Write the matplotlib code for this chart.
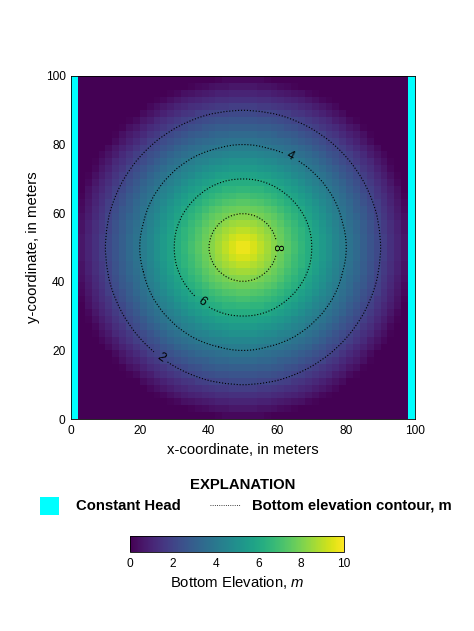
import numpy as np
import matplotlib
matplotlib.use("Agg")
import matplotlib.pyplot as plt
from matplotlib.colors import ListedColormap
from matplotlib.lines import Line2D
from matplotlib.patches import Rectangle

plt.rcParams["font.family"] = ["Liberation Sans", "DejaVu Sans"]
plt.rcParams["mathtext.fontset"] = "custom"
plt.rcParams["mathtext.it"] = "Liberation Sans:italic"
plt.rcParams["mathtext.rm"] = "Liberation Sans"

W, H = 474, 631

# bottom elevation, one quadrant of the grid,
# first row/column is next to the center of the model (cells are 2 m wide)
quadrant = [
    [9.7,9.4,9.0,8.6,8.2,7.8,7.4,7.0,6.6,6.2,5.8,5.4,5.0,4.6,4.2,3.8,3.4,3.0,2.6,2.2,1.8,1.4,1.0,0.6,0.2],
    [9.4,9.2,8.8,8.5,8.1,7.7,7.3,6.9,6.5,6.2,5.8,5.4,5.0,4.6,4.2,3.8,3.4,3.0,2.6,2.2,1.8,1.4,1.0,0.6,0.2],
    [9.0,8.8,8.6,8.3,7.9,7.6,7.2,6.8,6.5,6.1,5.7,5.3,4.9,4.5,4.1,3.7,3.3,2.9,2.5,2.1,1.7,1.3,0.9,0.5,0.2],
    [8.6,8.5,8.3,8.0,7.7,7.4,7.0,6.7,6.3,6.0,5.6,5.2,4.8,4.4,4.0,3.6,3.3,2.9,2.5,2.1,1.7,1.3,0.9,0.5,0.1],
    [8.2,8.1,7.9,7.7,7.5,7.2,6.8,6.5,6.2,5.8,5.4,5.1,4.7,4.3,3.9,3.5,3.2,2.8,2.4,2.0,1.6,1.2,0.8,0.4,0.0],
    [7.8,7.7,7.6,7.4,7.2,6.9,6.6,6.3,6.0,5.6,5.3,4.9,4.5,4.2,3.8,3.4,3.0,2.7,2.3,1.9,1.5,1.1,0.7,0.3,0.0],
    [7.4,7.3,7.2,7.0,6.8,6.6,6.3,6.0,5.7,5.4,5.1,4.7,4.4,4.0,3.6,3.3,2.9,2.5,2.2,1.8,1.4,1.0,0.6,0.2,0.0],
    [7.0,6.9,6.8,6.7,6.5,6.3,6.0,5.8,5.5,5.2,4.8,4.5,4.2,3.8,3.5,3.1,2.8,2.4,2.0,1.6,1.3,0.9,0.5,0.1,0.0],
    [6.6,6.5,6.5,6.3,6.2,6.0,5.7,5.5,5.2,4.9,4.6,4.3,4.0,3.6,3.3,2.9,2.6,2.2,1.9,1.5,1.1,0.8,0.4,0.0,0.0],
    [6.2,6.2,6.1,6.0,5.8,5.6,5.4,5.2,4.9,4.6,4.3,4.0,3.7,3.4,3.1,2.7,2.4,2.0,1.7,1.3,1.0,0.6,0.2,0.0,0.0],
    [5.8,5.8,5.7,5.6,5.4,5.3,5.1,4.8,4.6,4.3,4.1,3.8,3.5,3.2,2.8,2.5,2.2,1.8,1.5,1.1,0.8,0.4,0.1,0.0,0.0],
    [5.4,5.4,5.3,5.2,5.1,4.9,4.7,4.5,4.3,4.0,3.8,3.5,3.2,2.9,2.6,2.3,2.0,1.6,1.3,0.9,0.6,0.2,0.0,0.0,0.0],
    [5.0,5.0,4.9,4.8,4.7,4.5,4.4,4.2,4.0,3.7,3.5,3.2,2.9,2.6,2.3,2.0,1.7,1.4,1.1,0.7,0.4,0.1,0.0,0.0,0.0],
    [4.6,4.6,4.5,4.4,4.3,4.2,4.0,3.8,3.6,3.4,3.2,2.9,2.6,2.4,2.1,1.8,1.5,1.2,0.8,0.5,0.2,0.0,0.0,0.0,0.0],
    [4.2,4.2,4.1,4.0,3.9,3.8,3.6,3.5,3.3,3.1,2.8,2.6,2.3,2.1,1.8,1.5,1.2,0.9,0.6,0.3,0.0,0.0,0.0,0.0,0.0],
    [3.8,3.8,3.7,3.6,3.5,3.4,3.3,3.1,2.9,2.7,2.5,2.3,2.0,1.8,1.5,1.2,0.9,0.6,0.3,0.0,0.0,0.0,0.0,0.0,0.0],
    [3.4,3.4,3.3,3.3,3.2,3.0,2.9,2.8,2.6,2.4,2.2,2.0,1.7,1.5,1.2,0.9,0.7,0.4,0.1,0.0,0.0,0.0,0.0,0.0,0.0],
    [3.0,3.0,2.9,2.9,2.8,2.7,2.5,2.4,2.2,2.0,1.8,1.6,1.4,1.2,0.9,0.6,0.4,0.1,0.0,0.0,0.0,0.0,0.0,0.0,0.0],
    [2.6,2.6,2.5,2.5,2.4,2.3,2.2,2.0,1.9,1.7,1.5,1.3,1.1,0.8,0.6,0.3,0.1,0.0,0.0,0.0,0.0,0.0,0.0,0.0,0.0],
    [2.2,2.2,2.1,2.1,2.0,1.9,1.8,1.6,1.5,1.3,1.1,0.9,0.7,0.5,0.3,0.0,0.0,0.0,0.0,0.0,0.0,0.0,0.0,0.0,0.0],
    [1.8,1.8,1.7,1.7,1.6,1.5,1.4,1.3,1.1,1.0,0.8,0.6,0.4,0.2,0.0,0.0,0.0,0.0,0.0,0.0,0.0,0.0,0.0,0.0,0.0],
    [1.4,1.4,1.3,1.3,1.2,1.1,1.0,0.9,0.8,0.6,0.4,0.2,0.1,0.0,0.0,0.0,0.0,0.0,0.0,0.0,0.0,0.0,0.0,0.0,0.0],
    [1.0,1.0,0.9,0.9,0.8,0.7,0.6,0.5,0.4,0.2,0.1,0.0,0.0,0.0,0.0,0.0,0.0,0.0,0.0,0.0,0.0,0.0,0.0,0.0,0.0],
    [0.6,0.6,0.5,0.5,0.4,0.3,0.2,0.1,0.0,0.0,0.0,0.0,0.0,0.0,0.0,0.0,0.0,0.0,0.0,0.0,0.0,0.0,0.0,0.0,0.0],
    [0.2,0.2,0.2,0.1,0.0,0.0,0.0,0.0,0.0,0.0,0.0,0.0,0.0,0.0,0.0,0.0,0.0,0.0,0.0,0.0,0.0,0.0,0.0,0.0,0.0],
]
contour_levels = [2, 4, 6, 8]
label_spots = [(26, 18), (63.5, 76), (38, 34), (60, 50)]
axis_ticks = [0, 20, 40, 60, 80, 100]
cbar_ticks = [0, 2, 4, 6, 8, 10]
chd_columns = [0, 49]


def figbox(left, top, right, bottom):
    # pixel box measured from the top left corner of the picture
    return [left / W, 1 - bottom / H, (right - left) / W, (bottom - top) / H]


q = np.array(quadrant)
top = np.hstack([q[::-1, ::-1], q[::-1, :]])
elev = np.vstack([top, top[::-1, :]])

# values only have one decimal, a 3x3 mean keeps the contours from wobbling
padded = np.pad(elev, 1, mode="edge")
smooth = sum(padded[1 + i:51 + i, 1 + j:51 + j] for i in (-1, 0, 1) for j in (-1, 0, 1)) / 9

edges = np.arange(0, 101, 2)
centers = np.arange(1, 100, 2)

fig = plt.figure(figsize=(W / 100, H / 100), dpi=100)
ax = fig.add_axes(figbox(71, 76, 415, 419))

mesh = ax.pcolormesh(edges, edges, elev, cmap="viridis", vmin=0, vmax=10)

chd = np.ma.masked_all(elev.shape)
chd[:, chd_columns] = 1
ax.pcolormesh(edges, edges, chd, cmap=ListedColormap(["#00ffff"]), vmin=0, vmax=1)

cs = ax.contour(centers, centers, smooth, levels=contour_levels, colors="black",
                linestyles=":", linewidths=0.8)
ax.clabel(cs, fmt="%d", fontsize=9, inline=True, manual=label_spots)

ax.set_xlim(0, 100)
ax.set_ylim(0, 100)
ax.set_xticks(axis_ticks)
ax.set_yticks(axis_ticks)
ax.tick_params(length=0, labelsize=8.6, pad=4)
ax.set_xlabel("x-coordinate, in meters", fontsize=10.7, labelpad=5)
ax.set_ylabel("y-coordinate, in meters", fontsize=10.7, labelpad=4)
for s in ax.spines.values():
    s.set_linewidth(0.6)

# explanation block
fig.text(243 / W, 1 - 485 / H, "EXPLANATION", fontsize=10.7, fontweight="bold",
         ha="center", va="center")
fig.add_artist(Rectangle((40 / W, 1 - 515 / H), 19 / W, 18 / H, facecolor="#00ffff",
                         edgecolor="none", transform=fig.transFigure))
fig.text(76 / W, 1 - 505.5 / H, "Constant Head", fontsize=10.7, fontweight="bold",
         ha="left", va="center")
fig.add_artist(Line2D([210 / W, 240 / W], [1 - 505 / H, 1 - 505 / H], color="black",
                      linestyle=":", linewidth=0.6, transform=fig.transFigure))
fig.text(252 / W, 1 - 505.5 / H, "Bottom elevation contour, m", fontsize=10.7,
         fontweight="bold", ha="left", va="center")

cax = fig.add_axes(figbox(130, 536, 344, 552))
cbar = fig.colorbar(mesh, cax=cax, orientation="horizontal", ticks=cbar_ticks)
cbar.ax.tick_params(length=0, labelsize=8.6, pad=4)
cbar.set_label("Bottom Elevation, $\\mathit{m}$", fontsize=10.7, labelpad=3)
cbar.outline.set_linewidth(0.6)

fig.savefig("out.png", dpi=100)
